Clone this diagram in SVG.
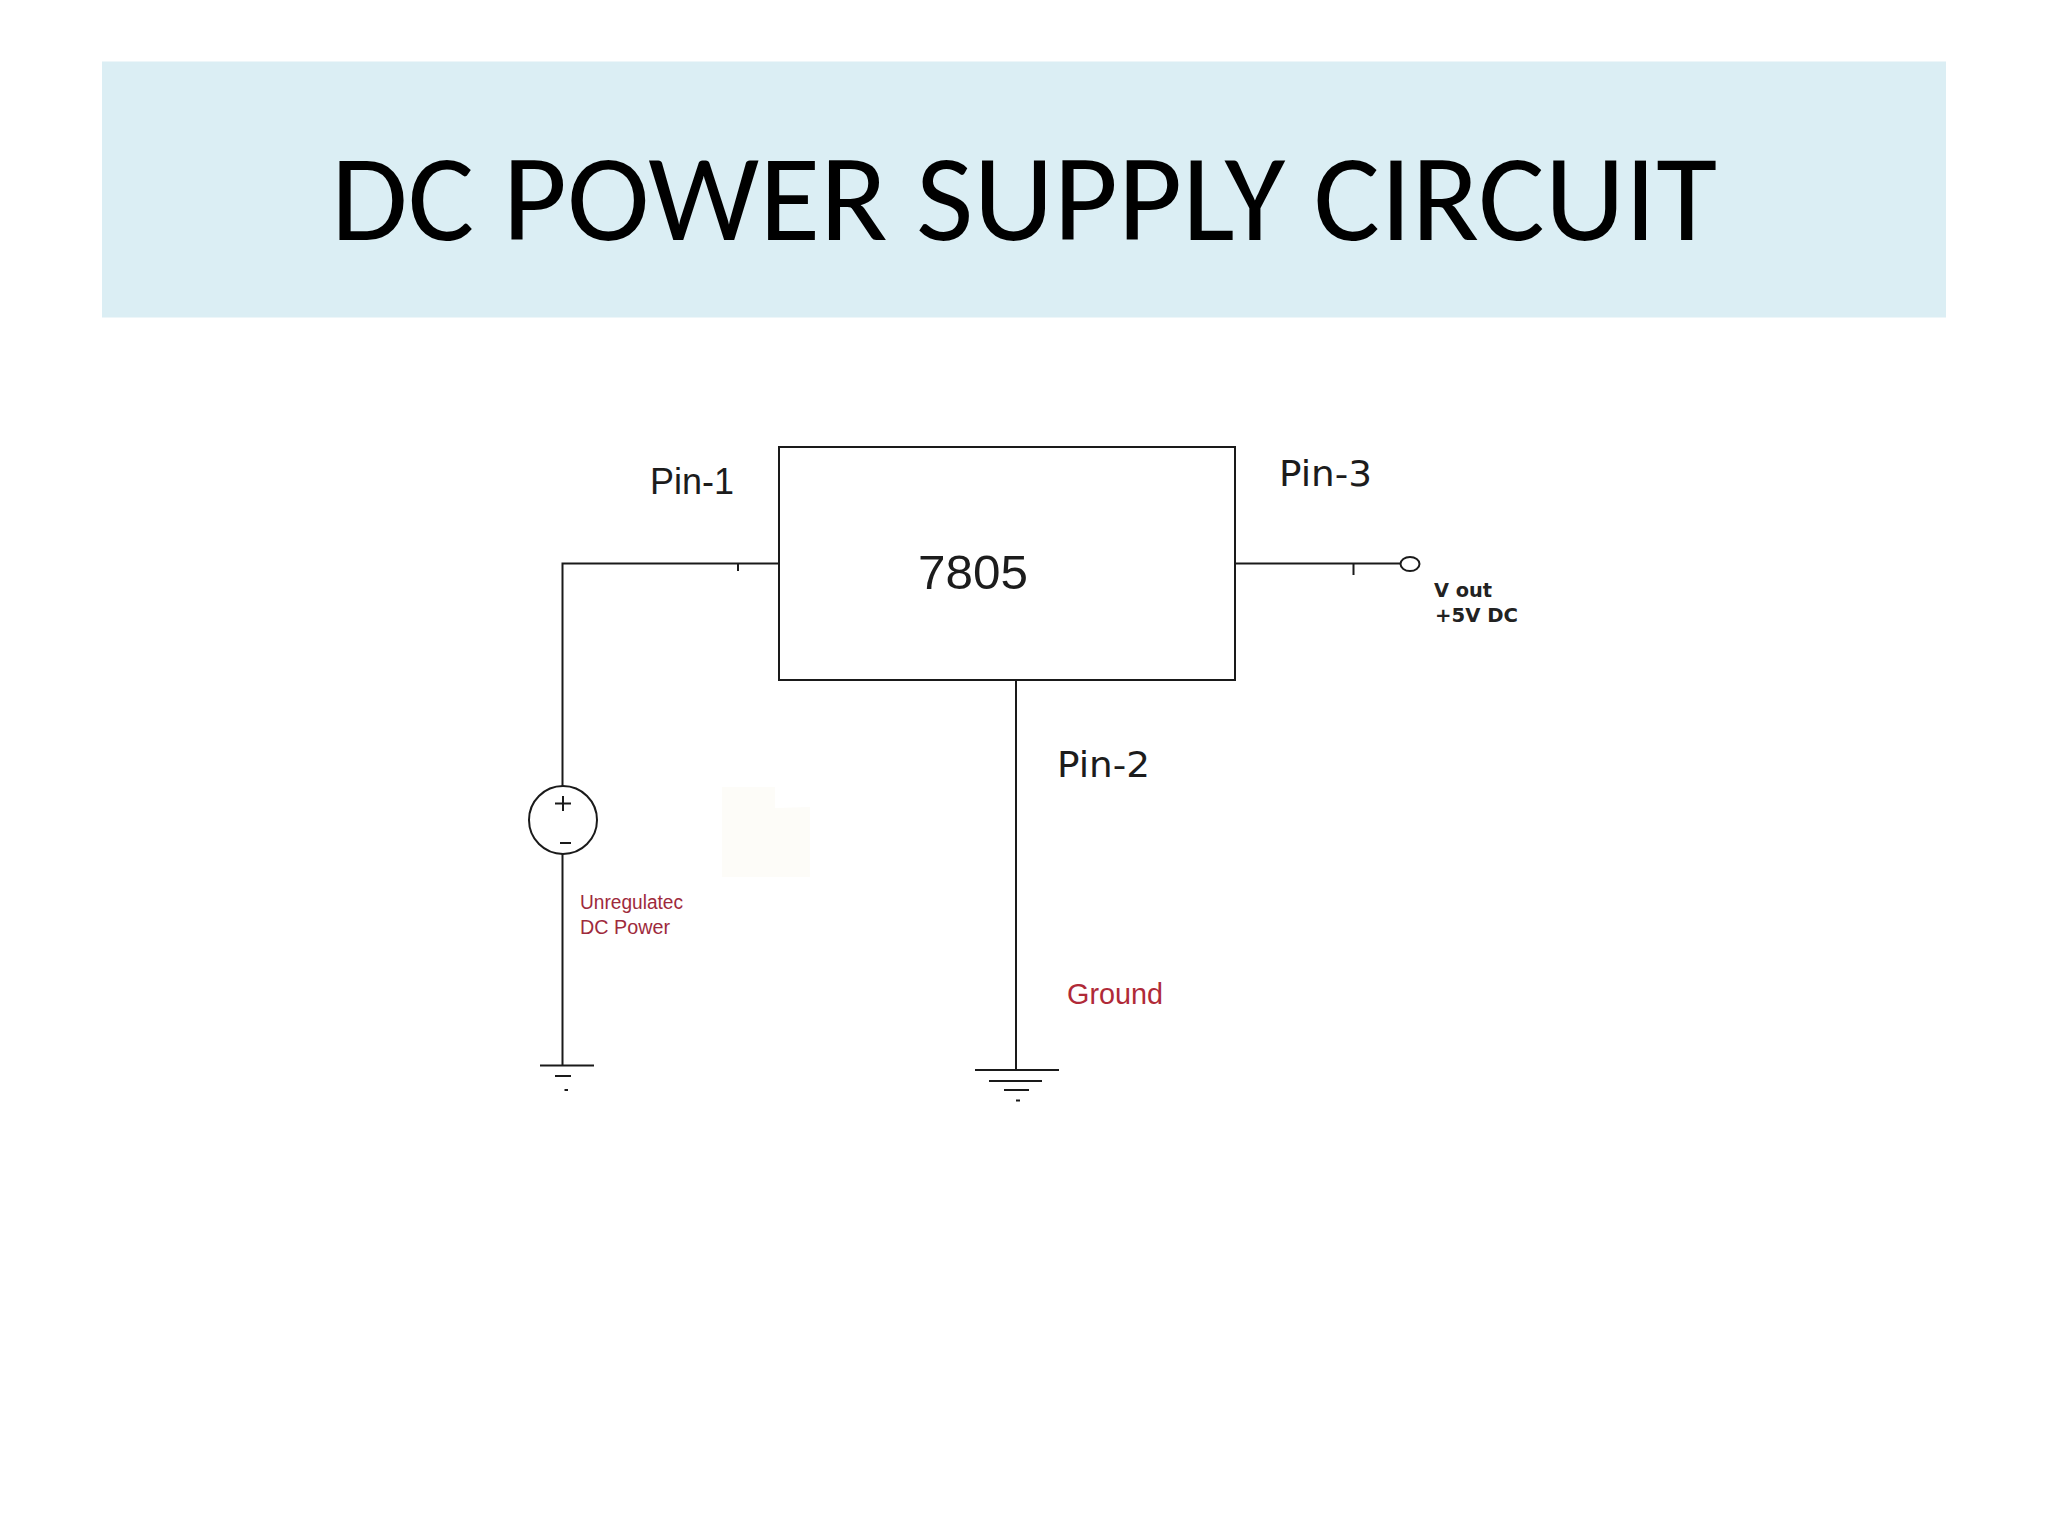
<svg xmlns="http://www.w3.org/2000/svg" width="2048" height="1536" viewBox="0 0 2048 1536">
<style>
.w{stroke:#1a1a1a;stroke-width:2;fill:none}
.p{font-family:"Liberation Sans",Arial,sans-serif;fill:#1c1c1c}
.d{font-family:"DejaVu Sans",sans-serif;fill:#1c1c1c}
.b{font-family:"DejaVu Sans",sans-serif;font-weight:bold;fill:#222;font-size:19px}
.r{font-family:"Liberation Sans",Arial,sans-serif;fill:#9e2a3c}
</style>
<rect width="2048" height="1536" fill="#fff"/>
<g id="title">
<rect x="102" y="61.500" width="1844" height="256" fill="#dbeef4"/>
<text x="331" y="240" font-family="Carlito,Lato,sans-serif" font-size="124" fill="#000" textLength="1386" lengthAdjust="spacingAndGlyphs">DC POWER SUPPLY CIRCUIT</text>
</g>
<path d="M722 787H775V808L810 807V877H722Z" fill="#fdfcf8"/>
<g id="connectors">
<path class="w" d="M779 563.500H562.500V786M562.500 854V1065M738 563.500V571M1235 563.500H1401M1353.500 563.500V575M1016 680V1070"/>
</g>
<g id="ic7805">
<rect class="w" x="779" y="447" width="456" height="233"/>
<text class="p" x="918" y="589" font-size="49" textLength="110" lengthAdjust="spacingAndGlyphs">7805</text>
</g>
<g id="pin1"><text class="p" x="650" y="494" font-size="36" textLength="84" lengthAdjust="spacingAndGlyphs">Pin-1</text></g>
<g id="pin2"><text class="d" x="1057" y="777" font-size="35" textLength="93" lengthAdjust="spacingAndGlyphs">Pin-2</text></g>
<g id="pin3"><text class="d" x="1279" y="486" font-size="35" textLength="93" lengthAdjust="spacingAndGlyphs">Pin-3</text></g>
<g id="vout">
<ellipse class="w" cx="1410" cy="564" rx="9.500" ry="7"/>
<text class="b" x="1434" y="597" textLength="58" lengthAdjust="spacingAndGlyphs">V out</text>
<text class="b" x="1435" y="622" textLength="83" lengthAdjust="spacingAndGlyphs">+5V DC</text>
</g>
<g id="source">
<circle class="w" cx="563" cy="820" r="34"/>
<path class="w" d="M555 803.500H571M563 796V811M560 843H571"/>
<text class="r" x="580" y="909" font-size="20" textLength="103" lengthAdjust="spacingAndGlyphs">Unregulatec</text>
<text class="r" x="580" y="934" font-size="20" textLength="90" lengthAdjust="spacingAndGlyphs">DC Power</text>
</g>
<g id="ground1">
<path class="w" d="M540 1065.500H594M555 1076H571M564.500 1090H568"/>
</g>
<g id="ground2">
<path class="w" d="M975 1070H1059M989 1081H1042M1004 1090H1029M1016 1100.500H1020"/>
<text x="1067" y="1004" font-family="Liberation Sans,sans-serif" font-size="30" fill="#b02a38" textLength="96" lengthAdjust="spacingAndGlyphs">Ground</text>
</g>
</svg>
